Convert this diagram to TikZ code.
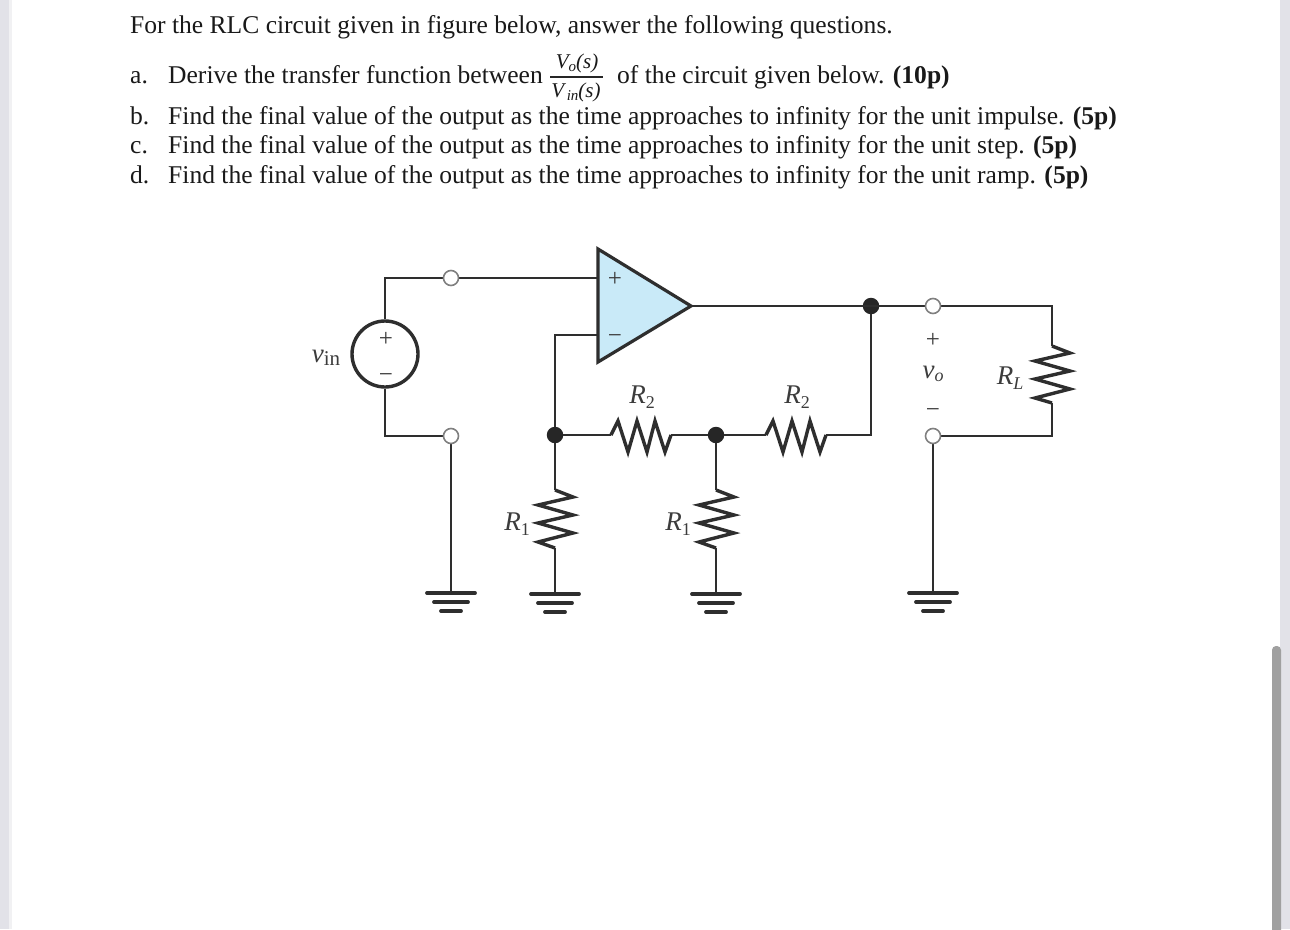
\documentclass[tikz,border=0pt]{standalone}
\usepackage{fontspec}
\setmainfont{Liberation Serif}
\definecolor{wirec}{HTML}{2E2E2E}
\definecolor{labelc}{HTML}{3C3C3C}
\definecolor{opfill}{HTML}{C9EAF8}
\definecolor{stripa}{HTML}{E2E2E8}
\definecolor{stripb}{HTML}{F1F1F3}
\definecolor{thumbc}{HTML}{A0A0A0}
\tikzset{
  wire/.style={draw=wirec,line width=2.5pt,line join=miter},
  res/.style={draw=wirec,line width=3.4pt,line join=miter},
  dotn/.style={circle,fill=black!85,draw=none,minimum size=16.5pt,inner sep=0pt},
  opent/.style={circle,fill=white,draw=black!50,line width=1.6pt,minimum size=15pt,inner sep=0pt},
  body/.style={anchor=base west,inner sep=0pt,font=\fontsize{25.55}{30}\selectfont,text=black!90},
  frac/.style={anchor=center,inner sep=0pt,font=\fontsize{21}{24}\selectfont\itshape,text=black!90},
  clabel/.style={anchor=center,inner sep=0pt,text=labelc,font=\fontsize{27}{30}\selectfont},
  sign/.style={anchor=center,inner sep=0pt,text=labelc,font=\fontsize{25}{28}\selectfont},
  gbar/.style={draw=wirec,line width=3.8pt,line cap=round}
}
\newcommand{\Gnd}[1]{%
  \draw[gbar] ([xshift=-24pt]#1) -- ([xshift=24pt]#1);
  \draw[gbar] ([xshift=-17pt,yshift=-9pt]#1) -- ([xshift=17pt,yshift=-9pt]#1);
  \draw[gbar] ([xshift=-10pt,yshift=-18pt]#1) -- ([xshift=10pt,yshift=-18pt]#1);
}
\newcommand{\ResH}[2]{\draw[res] (#1) -- ++(7,-14) -- ++(10,31) -- ++(9,-31) -- ++(10,31) -- ++(8,-31) -- ++(10,31) -- (#2);}
\newcommand{\ResV}[2]{\draw[res] (#1) -- ++(18,7) -- ++(-35,8) -- ++(35,10) -- ++(-35,8) -- ++(35,10) -- ++(-35,9) -- (#2);}
\newcommand{\Rsub}[2]{\textit{#1}\raisebox{-5pt}{\fontsize{18}{20}\selectfont #2}}
\begin{document}
\begin{tikzpicture}[x=1pt,y=-1pt]
\useasboundingbox (0,0) rectangle (1290,929);
\fill[white] (0,0) rectangle (1290,929);
% window edges
\fill[stripa] (0,0) rectangle (9,929);
\fill[stripb] (9,0) rectangle (12,929);
\fill[stripa] (1280,0) rectangle (1290,929);
\fill[thumbc,rounded corners=4pt] (1272,646) rectangle (1281,945);
% text
\node[body] (t0) at (130,33) {For the RLC circuit given in figure below, answer the following questions.};
\node[body] (la) at (130,83) {a.};
\node[body] (ta) at (168,83) {Derive the transfer function between};
\node[frac] (fnum) at (577,63) {V\raisebox{-3pt}{\fontsize{15}{16}\selectfont o}(s)};
\node[frac] (fden) at (576,92) {V\raisebox{-3pt}{\fontsize{15}{16}\selectfont\,in}(s)};
\coordinate (fa) at (550,77); \coordinate (fb) at (603,77);
\draw[black!85,line width=1.2pt] (fa) -- (fb);
\node[body] (tb) at (617,83) {of the circuit given below. \textbf{(10p)}};
\node[body] (lb) at (130,124) {b.};
\node[body] (tbb) at (168,124) {Find the final value of the output as the time approaches to infinity for the unit impulse. \textbf{(5p)}};
\node[body] (lc) at (130,153) {c.};
\node[body] (tc) at (168,153) {Find the final value of the output as the time approaches to infinity for the unit step. \textbf{(5p)}};
\node[body] (ld) at (130,183) {d.};
\node[body] (td) at (168,183) {Find the final value of the output as the time approaches to infinity for the unit ramp. \textbf{(5p)}};
% junction coordinates
\coordinate (tl) at (385,278);
\coordinate (bl) at (385,436);
\coordinate (ninv) at (598,278);
\coordinate (inv) at (598,335);
\coordinate (invc) at (555,335);
\coordinate (out) at (691,306);
\coordinate (trc) at (1052,306);
\coordinate (brc) at (1052,436);
\coordinate (fbc) at (871,435);
\coordinate (g1) at (451,593);
\coordinate (g2) at (555,594);
\coordinate (g3) at (716,594);
\coordinate (g4) at (933,593);
\coordinate (r2as) at (611,435); \coordinate (r2ae) at (671,435);
\coordinate (r2bs) at (766,435); \coordinate (r2be) at (826,435);
\coordinate (r1as) at (555,490); \coordinate (r1ae) at (555,548);
\coordinate (r1bs) at (716,490); \coordinate (r1be) at (716,548);
\coordinate (rls) at (1052,346); \coordinate (rle) at (1052,403);
% junction nodes
\node[circle,draw=wirec,line width=3.4pt,minimum size=66pt,inner sep=0pt,fill=white] (src) at (385,354) {};
\node[dotn] (d1) at (555,435) {};
\node[dotn] (d2) at (716,435) {};
\node[dotn] (d3) at (871,306) {};
% wires
\draw[wire] (src.north) -- (tl) -- (ninv);
\draw[wire] (src.south) -- (bl) -- (451,436);
\draw[wire] (451,436) -- (g1);
\draw[wire] (inv) -- (invc) -- (d1);
\draw[wire] (d1) -- (r2as);
\draw[wire] (r2ae) -- (d2);
\draw[wire] (d2) -- (r2bs);
\draw[wire] (r2be) -- (fbc) -- (d3);
\draw[wire] (out) -- (trc) -- (rls);
\draw[wire] (rle) -- (brc) -- (933,436);
\draw[wire] (933,436) -- (g4);
\draw[wire] (d1) -- (r1as);
\draw[wire] (r1ae) -- (g2);
\draw[wire] (d2) -- (r1bs);
\draw[wire] (r1be) -- (g3);
% resistors
\ResH{r2as}{r2ae}
\ResH{r2bs}{r2be}
\ResV{r1as}{r1ae}
\ResV{r1bs}{r1be}
\ResV{rls}{rle}
% grounds
\Gnd{g1}\Gnd{g2}\Gnd{g3}\Gnd{g4}
% terminals
\node[opent] (o1) at (451,278) {};
\node[opent] (o2) at (451,436) {};
\node[opent] (o3) at (933,306) {};
\node[opent] (o4) at (933,436) {};
% op amp
\draw[draw=wirec,fill=opfill,line width=3.2pt,line join=miter] (598,249) -- (out) -- (598,362) -- cycle;
\node[sign] (pl) at (615,279) {+};
\node[sign] (mi) at (615,339) {−};
% labels
\node[sign] (sp) at (386,339) {+};
\node[sign] (sm) at (386,378) {−};
\node[clabel] (lvin) at (326,358) {\textit{v}\raisebox{-3pt}{\fontsize{21}{24}\selectfont in}};
\node[clabel] (lr2a) at (642,397) {\Rsub{R}{2}};
\node[clabel] (lr2b) at (797,397) {\Rsub{R}{2}};
\node[clabel] (lr1a) at (517,524) {\Rsub{R}{1}};
\node[clabel] (lr1b) at (678,524) {\Rsub{R}{1}};
\node[clabel] (lrl) at (1010,378) {\Rsub{R}{\textit{L}}};
\node[clabel] (lvo) at (933,374) {\textit{v}\raisebox{-3pt}{\fontsize{18}{20}\selectfont\textit{o}}};
\node[sign] (op) at (933,340) {+};
\node[sign] (om) at (933,413) {−};
\end{tikzpicture}
\end{document}
